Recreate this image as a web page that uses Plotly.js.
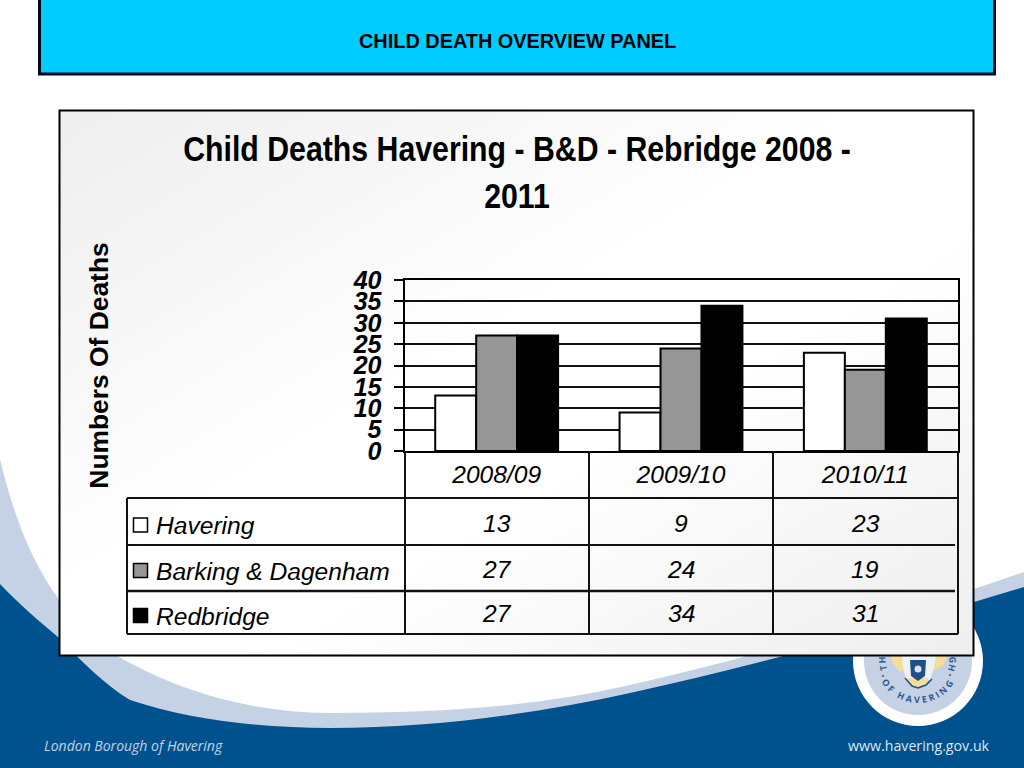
<!DOCTYPE html>
<html>
<head>
<meta charset="utf-8">
<script src="https://cdn.plot.ly/plotly-3.0.1.min.js"></script>
<style>
html,body{margin:0;padding:0;background:#fff;width:1024px;height:768px;overflow:hidden}
#bg,#chart{position:absolute;left:0;top:0;width:1024px;height:768px}
.seal{font-family:"Open Sans";font-weight:700;font-size:9px;fill:#2d5c8f;text-anchor:middle;dominant-baseline:central}
</style>
</head>
<body>
<svg id="bg" viewBox="0 0 1024 768" xmlns="http://www.w3.org/2000/svg">
  <defs>
    <linearGradient id="panelFill" x1="0" y1="0" x2="1" y2="1">
      <stop offset="0" stop-color="#eeeeee"/>
      <stop offset="0.45" stop-color="#ffffff"/>
      <stop offset="0.6" stop-color="#ffffff"/>
      <stop offset="1" stop-color="#eeeeee"/>
    </linearGradient>
    <path id="arcBottom" d="M 880 661 A 38 38 0 0 0 956 661"/>
  </defs>
  <path fill="#c5d2e5" d="M0,459 C12,510 30,560 58,598 C78,625 100,648 130,663 C190,695 260,713 330,713 C430,713 530,708 630,685 C760,655 900,615 1024,572 L1024,768 L0,768 Z"/>
  <path fill="#00528e" d="M0,584 C20,605 40,622 58,637 C80,660 105,685 130,700 C190,720 260,728 330,728 C430,728 530,715 630,693 C760,665 900,625 1024,587 L1024,768 L0,768 Z"/>
  <circle cx="918" cy="661" r="65" fill="#ffffff"/>
  <circle cx="918" cy="661" r="54" fill="#c5d2e5"/>
  <path fill="#f6dc9a" d="M890,654 L906,654 L908,668 L900,672 L893,664 Z"/>
  <path fill="#f6dc9a" d="M930,654 L948,654 L943,666 L934,670 Z"/>
  <path fill="#eef1f5" d="M902,654 L936,654 L934,668 L930,680 L906,680 L903,668 Z"/>
  <path fill="#f6dc9a" d="M907,678 L929,678 L925,685 L918,687 L911,685 Z"/>
  <path fill="none" stroke="#23507f" stroke-width="1.5" d="M905,678 L912,686 L918,688 L926,685 L932,679"/>
  <path fill="#1f4f86" d="M910,660 L926,660 L925,676 L918,681 L911,676 Z"/>
  <circle cx="918" cy="669" r="3.5" fill="#d9e2ee"/>
  <text class="seal" letter-spacing="1.8"><textPath href="#arcBottom" startOffset="50%">OF HAVERING</textPath></text>
  <text class="seal" x="883" y="668" transform="rotate(-100 883 668)">T</text>
  <text class="seal" x="882" y="660" transform="rotate(-92 882 660)">H</text>
  <text class="seal" x="953" y="660" transform="rotate(92 953 660)">G</text>
  <text class="seal" x="952" y="668" transform="rotate(105 952 668)">H</text>
  <circle cx="883" cy="676" r="1" fill="#2d5c8f"/>
  <circle cx="950" cy="675" r="1" fill="#2d5c8f"/>
  <rect x="39.5" y="-2" width="955" height="76" fill="#00ccff" stroke="#08081a" stroke-width="3"/>
  <rect x="59.5" y="110.5" width="914" height="545" fill="url(#panelFill)" stroke="#000" stroke-width="2"/>
</svg>
<div id="chart"></div>
<script>
var W = 1024, H = 768;
var categories = ['2008/09', '2009/10', '2010/11'];
var seriesNames = ['Havering', 'Barking &amp; Dagenham', 'Redbridge'];
var havering = [13, 9, 23];
var barkingDagenham = [27, 24, 19];
var redbridge = [27, 34, 31];
var seriesValues = [havering, barkingDagenham, redbridge];
var seriesColors = ['#ffffff', '#969696', '#000000'];
var yTicks = [0, 5, 10, 15, 20, 25, 30, 35, 40];

var SANS = '"Liberation Sans", Arial, sans-serif';
function px(x) { return x / W; }
function py(y) { return 1 - y / H; }
function hline(x0, x1, y, w) {
  return {type: 'line', xref: 'paper', yref: 'paper', x0: px(x0), x1: px(x1), y0: py(y), y1: py(y),
          line: {color: '#111', width: w}, layer: 'above'};
}
function vline(x, y0, y1, w) {
  return {type: 'line', xref: 'paper', yref: 'paper', x0: px(x), x1: px(x), y0: py(y0), y1: py(y1),
          line: {color: '#111', width: w}, layer: 'above'};
}

var traces = seriesValues.map(function (vals, i) {
  return {type: 'bar', x: categories, y: vals, name: seriesNames[i],
          marker: {color: seriesColors[i], line: {color: '#000', width: 2}}};
});

var nameY = [525, 571, 616];
var valueY = [523, 569, 613];
var keyY = [525, 570.5, 615.5];

var shapes = [
  hline(127, 958, 498, 2), hline(127, 955, 545, 2), hline(127, 955, 591, 2.5), hline(127, 958, 634, 2),
  vline(127, 498, 634, 2), vline(405, 451, 634, 2), vline(589, 451, 634, 2), vline(773, 451, 634, 2), vline(958, 451, 634, 2)
];
var annotations = [
  {xref: 'paper', yref: 'paper', x: px(517), y: py(41), text: 'CHILD DEATH OVERVIEW PANEL', showarrow: false,
   xanchor: 'center', yanchor: 'middle', font: {family: SANS, size: 19.9, color: '#000', weight: 700}},
  {xref: 'paper', yref: 'paper', x: px(42), y: py(745), text: 'London Borough of Havering', showarrow: false,
   xanchor: 'left', yanchor: 'middle', font: {family: '"Open Sans"', size: 14, color: '#c5d2e5', style: 'italic'}},
  {xref: 'paper', yref: 'paper', x: px(992), y: py(745), text: 'www.havering.gov.uk', showarrow: false,
   xanchor: 'right', yanchor: 'middle', font: {family: '"Open Sans"', size: 14.2, color: '#dfe6f0'}}
];
seriesNames.forEach(function (name, r) {
  shapes.push({type: 'rect', xref: 'paper', yref: 'paper', x0: px(133.5), x1: px(147.5),
               y0: py(keyY[r] - 7), y1: py(keyY[r] + 7), fillcolor: seriesColors[r],
               line: {color: '#000', width: 1.5}, layer: 'above'});
  annotations.push({xref: 'paper', yref: 'paper', x: px(154), y: py(nameY[r]), text: name, showarrow: false,
                    xanchor: 'left', yanchor: 'middle',
                    font: {family: SANS, size: 24.6, color: '#000', style: 'italic'}});
  categories.forEach(function (c, i) {
    annotations.push({xref: 'x', yref: 'paper', x: c, y: py(valueY[r]), text: String(seriesValues[r][i]), showarrow: false,
                      xanchor: 'center', yanchor: 'middle',
                      font: {family: SANS, size: 24.6, color: '#000', style: 'italic'}});
  });
});

var layout = {
  width: W, height: H,
  margin: {l: 0, r: 0, t: 0, b: 0, pad: 0},
  paper_bgcolor: 'rgba(0,0,0,0)', plot_bgcolor: 'rgba(0,0,0,0)',
  showlegend: false,
  barmode: 'group', bargap: 1 / 3, bargroupgap: 0,
  title: {text: 'Child Deaths Havering - B&amp;D - Rebridge 2008 -<br>2011', x: px(517), xanchor: 'center',
          y: py(161), yanchor: 'middle', font: {family: SANS, size: 36, color: '#000', weight: 700}},
  xaxis: {domain: [px(404.5), px(957.5)], type: 'category', categoryorder: 'array', categoryarray: categories,
          showline: true, linecolor: '#000', linewidth: 2, mirror: true,
          ticks: '', showgrid: false, zeroline: false,
          tickfont: {family: SANS, size: 24.6, color: '#000', style: 'italic'}},
  yaxis: {domain: [py(451), py(280)], range: [0, 40], tickmode: 'array', tickvals: yTicks, ticktext: yTicks.map(String),
          showline: true, linecolor: '#000', linewidth: 2, mirror: true,
          showgrid: true, gridcolor: '#111', gridwidth: 2, zeroline: false,
          ticks: 'outside', ticklen: 9, tickwidth: 2, tickcolor: '#000', ticklabelstandoff: 7,
          tickfont: {family: SANS, size: 25, color: '#000', style: 'italic', weight: 700},
          title: {text: 'Numbers Of Deaths', standoff: 236, font: {family: SANS, size: 26.4, color: '#000', weight: 700}}},
  shapes: shapes,
  annotations: annotations
};

Plotly.newPlot('chart', traces, layout, {displayModeBar: false, staticPlot: true}).then(function () {
  // The reference's title is horizontally condensed, and no narrow face is installed.
  var t = document.querySelector('#chart .gtitle');
  if (t) t.setAttribute('transform', 'translate(517 0) scale(0.841 1) translate(-517 0)');
});
</script>
</body>
</html>
